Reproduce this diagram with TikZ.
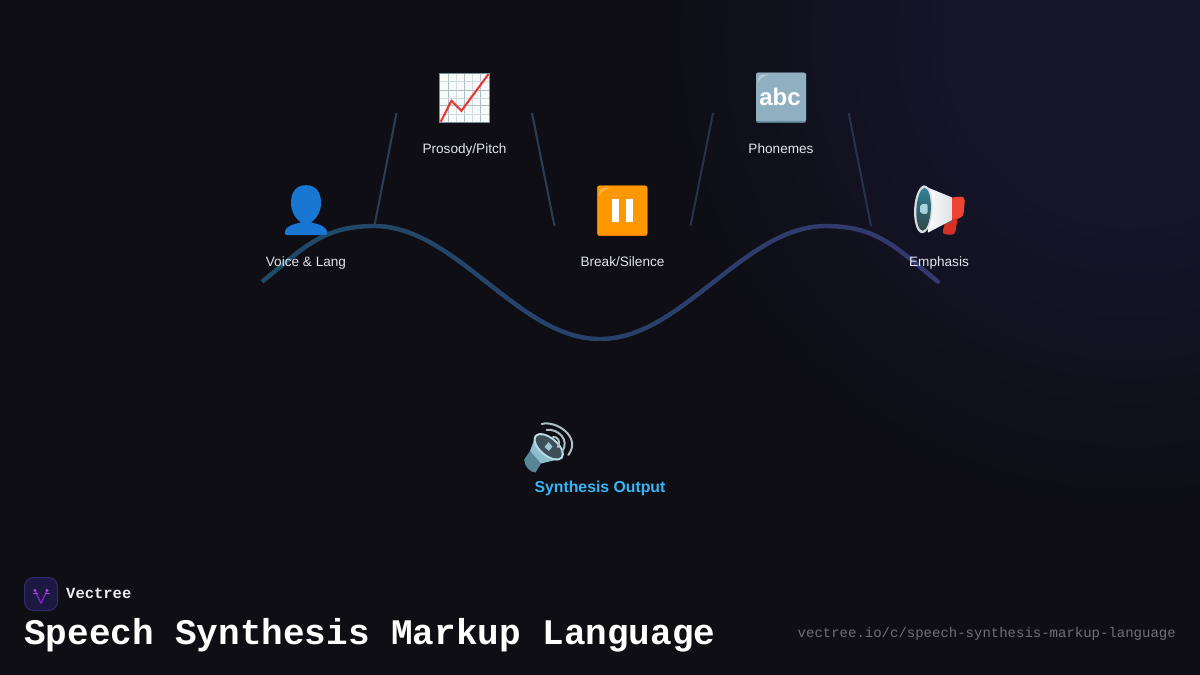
\documentclass[tikz,border=0pt]{standalone}
\usepackage{fontspec}
\setmainfont{Liberation Sans}
\setmonofont{Liberation Mono}
\definecolor{bgbase}{RGB}{14,14,20}
\definecolor{bgglow}{RGB}{21,21,44}
\definecolor{waveL}{RGB}{30,74,104}
\definecolor{waveR}{RGB}{52,56,110}
\definecolor{spokeA}{RGB}{44,62,86}
\definecolor{spokeB}{RGB}{36,52,76}
\definecolor{lbl}{RGB}{226,228,236}
\definecolor{accent}{RGB}{56,182,245}
\definecolor{urlgray}{RGB}{112,112,118}
\definecolor{personblue}{RGB}{25,118,210}
\definecolor{chartedge}{RGB}{120,144,156}
\definecolor{chartpaper}{RGB}{248,250,250}
\definecolor{gridA}{RGB}{176,190,197}
\definecolor{gridB}{RGB}{207,221,226}
\definecolor{chartred}{RGB}{229,57,53}
\definecolor{pausedark}{RGB}{239,124,0}
\definecolor{pauseorange}{RGB}{255,152,0}
\definecolor{pauseshine}{RGB}{255,183,77}
\definecolor{abcdark}{RGB}{84,122,136}
\definecolor{abcblue}{RGB}{144,175,193}
\definecolor{abcshine}{RGB}{178,203,216}
\definecolor{megred}{RGB}{240,68,50}
\definecolor{megredd}{RGB}{213,48,38}
\definecolor{meggray}{RGB}{110,90,90}
\definecolor{megbody}{RGB}{222,226,230}
\definecolor{megrim}{RGB}{214,222,226}
\definecolor{megteal}{RGB}{48,130,150}
\definecolor{megdark}{RGB}{52,70,72}
\definecolor{megcone}{RGB}{170,210,224}
\definecolor{spkneck}{RGB}{88,134,150}
\definecolor{spkbody}{RGB}{140,190,206}
\definecolor{spkrim}{RGB}{185,222,232}
\definecolor{spkin}{RGB}{64,78,88}
\definecolor{spkcone}{RGB}{150,200,215}
\definecolor{spkwave}{RGB}{176,190,197}
\definecolor{logoedge}{RGB}{52,44,112}
\definecolor{logofill}{RGB}{28,24,66}
\definecolor{logoline}{RGB}{126,34,206}
\definecolor{logodot}{RGB}{168,70,220}
\definecolor{brandtext}{RGB}{235,235,240}
\pgfdeclareradialshading{glowshade}{\pgfpoint{0bp}{0bp}}{color(0bp)=(bgglow); color(9bp)=(bgglow); color(25bp)=(bgbase); color(50bp)=(bgbase)}
\tikzset{
  iconlabel/.style={anchor=base,text=lbl,font=\fontsize{13.6}{16}\selectfont,inner sep=0pt},
  spoke/.style={line width=2pt,spokeA},
  spokeb/.style={line width=2pt,spokeB},
  wavepart/.style={line width=4.4pt,line cap=round,line join=round},
}
\begin{document}
\begin{tikzpicture}[x=1pt,y=-1pt]
\useasboundingbox (0,0) rectangle (1200,675);
\fill[bgbase] (0,0) rectangle (1200,675);
\begin{scope}
\clip (0,0) rectangle (1200,675);
\shade[shading=glowshade] (1130,40) circle (470);
\end{scope}

% spokes
\coordinate (s1a) at (396.5,113); \coordinate (s1b) at (374.5,225.5);
\coordinate (s2a) at (532,113);   \coordinate (s2b) at (554.5,226);
\coordinate (s3a) at (713,113);   \coordinate (s3b) at (690.5,226);
\coordinate (s4a) at (848.7,113); \coordinate (s4b) at (871,226);
\draw[spoke] (s1a) -- (s1b);
\draw[spoke] (s2a) -- (s2b);
\draw[spokeb] (s3a) -- (s3b);
\draw[spokeb] (s4a) -- (s4b);

% wave with a left-to-right colour gradient
\foreach \i in {0,...,169}{
  \pgfmathsetmacro{\xa}{262+4*\i}
  \pgfmathsetmacro{\xb}{min(\xa+4,938)}
  \pgfmathsetmacro{\ua}{min(\xa-261,939-\xa)}
  \pgfmathsetmacro{\ub}{min(\xb-261,939-\xb)}
  \pgfmathsetmacro{\ba}{\ua<112 ? 3.2*sin(\ua/112*180)*sin(\ua/112*180) : 0}
  \pgfmathsetmacro{\bb}{\ub<112 ? 3.2*sin(\ub/112*180)*sin(\ub/112*180) : 0}
  \pgfmathsetmacro{\ya}{282.5-56.5*sin((\xa-261)/226*180)-\ba}
  \pgfmathsetmacro{\yb}{282.5-56.5*sin((\xb-261)/226*180)-\bb}
  \pgfmathsetmacro{\pc}{100-\i/1.69}
  \ifnum\i=0\relax
    \draw[line width=4.4pt,line cap=butt,waveL!\pc!waveR] (\xa,\ya) -- (\xb,\yb);
  \else\ifnum\i=169\relax
    \draw[line width=4.4pt,line cap=butt,waveL!\pc!waveR] (\xa,\ya) -- (\xb,\yb);
  \else
    \draw[wavepart,waveL!\pc!waveR] (\xa,\ya) -- (\xb,\yb);
  \fi\fi
}

% person icon
\fill[personblue] (306,185.2)
  .. controls (296,185.2) and (291,192) .. (291,203)
  .. controls (291,212) and (296,219) .. (301,222.5)
  .. controls (294,224) and (284.8,226) .. (284.8,233)
  .. controls (284.8,234.5) and (285.5,235) .. (287,235)
  -- (325,235)
  .. controls (326.5,235) and (327.2,234.5) .. (327.2,233)
  .. controls (327.2,226) and (318,224) .. (311,222.5)
  .. controls (316,219) and (321,212) .. (321,203)
  .. controls (321,192) and (316,185.2) .. (306,185.2) -- cycle;
\node[iconlabel] (voice) at (306,266) {Voice \& Lang};

% chart icon
\fill[chartedge] (439.3,72.7) rectangle (490,122.9);
\fill[chartpaper] (440.3,73.7) rectangle (489,121.9);
\foreach \gx/\gc in {448.3/gridA,456.7/gridB,464.3/gridA,472.3/gridB,480.7/gridA}{
  \draw[\gc,line width=1pt] (\gx,73.7) -- (\gx,121.9);
}
\foreach \gy/\gc in {81.7/gridB,90/gridA,98.3/gridB,105.7/gridA,114/gridB}{
  \draw[\gc,line width=1pt] (440.3,\gy) -- (489,\gy);
}
\draw[chartred,line width=2.1pt,line join=miter] (440.8,121.7) -- (451.4,100.8) -- (461.4,110.8) -- (488.4,74.3);
\node[iconlabel] (prosody) at (464.5,153) {Prosody/Pitch};

% pause icon
\fill[pausedark,rounded corners=2pt] (597.3,185.7) rectangle (647.3,235.9);
\fill[pauseorange,rounded corners=2pt] (597.3,185.7) rectangle (647.3,234.7);
\fill[pauseshine] (599.2,196) .. controls (599.2,190.5) and (601,187.6) .. (606,187.6) -- (612,187.6) .. controls (606,188.5) and (601,191) .. (599.2,196) -- cycle;
\fill[white] (612.3,199) rectangle (619.3,222.3);
\fill[white] (625.7,199) rectangle (632.7,222.3);
\node[iconlabel] (breaksil) at (622.5,266) {Break/Silence};

% abc icon
\fill[abcdark,rounded corners=2pt] (756,72.7) rectangle (806,122.9);
\fill[abcblue,rounded corners=2pt] (756,72.7) rectangle (806,121.4);
\fill[abcshine] (757.8,83) .. controls (757.8,77.5) and (759.5,74.6) .. (764.5,74.6) -- (770,74.6) .. controls (764,75.5) and (759.5,78) .. (757.8,83) -- cycle;
\node[anchor=base,inner sep=0pt,text=white,font={\bfseries\fontsize{24}{26}\selectfont}] (abcglyph) at (780,105.8) {abc};
\node[iconlabel] (phonemes) at (781,153) {Phonemes};

% megaphone icon
\fill[megred] (950,197.7) -- (960,196.7) .. controls (963.5,196.5) and (965,198.5) .. (964.8,201) -- (963.6,213) .. controls (963.3,216.5) and (960,218.5) .. (957,219.3) -- (951,220.5) -- cycle;
\fill[megredd] (945.5,220) -- (957.5,218.3) -- (955.6,231) .. controls (955.2,234) and (953,235) .. (950,234.8) -- (945.5,234.3) .. controls (943,234) and (942.3,232.5) .. (943,230.5) -- cycle;
\fill[meggray] (946.5,220) -- (952,219.5) -- (951.5,223) -- (946,223.5) -- cycle;
\shade[left color=white,right color=megbody]
 (923,185.6) -- (952,197.4) -- (952,220) -- (928,232.6) -- cycle;
\begin{scope}[rotate around={-3:(923.3,209.3)}]
\fill[megrim] (923.3,209.3) ellipse (9.2 and 23.9);
\shade[top color=megteal,bottom color=megdark] (923.6,209.3) ellipse (7.2 and 21.4);
\end{scope}
\fill[megcone,rounded corners=2pt] (920,204.5) -- (927.5,203.6) -- (927.5,214) -- (920,213.5) -- cycle;
\node[iconlabel] (emphasis) at (939,266) {Emphasis};

% speaker icon
\fill[spkneck] (524.2,459.5) -- (530,451) -- (541,463.5) -- (535.5,472.5) .. controls (530,472.5) and (524,466) .. (524.2,459.5) -- cycle;
\fill[spkbody] (530,451) -- (535.6,436) -- (562,458.5) -- (541,463.5) -- cycle;
\begin{scope}[rotate around={-40:(548.7,446.8)}]
\fill[spkrim] (548.7,446.8) ellipse (18 and 9.6);
\fill[spkin] (548.7,446.8) ellipse (15.8 and 7.6);
\end{scope}
\fill[spkcone] (544.5,447) -- (548.5,442) -- (552.5,446.5) -- (549,451) -- cycle;
\draw[spkwave,line width=2pt,line cap=round] (541.7,424) .. controls (556,420) and (582,437) .. (568.3,455);
\draw[spkwave,line width=2pt,line cap=round] (546.7,430) .. controls (557,428) and (571,440) .. (561.7,451.7);
\draw[spkwave,line width=2pt,line cap=round] (553,437) .. controls (557.5,436.5) and (561,441) .. (558,447);
\node[anchor=base,inner sep=0pt,text=accent,font={\bfseries\fontsize{15.8}{18}\selectfont}] (output) at (600,492) {Synthesis Output};

% brand
\draw[logoedge,fill=logofill,line width=1pt,rounded corners=9pt] (24.5,577.5) rectangle (57.5,610.5);
\coordinate (lgb) at (41,603.5); \coordinate (lgl) at (35,590.5); \coordinate (lgr) at (47,590.5);
\draw[logoline,line width=1.3pt] (lgb) -- (lgl);
\draw[logoline,line width=1.3pt] (lgb) -- (lgr);
\fill[logodot] (lgl) circle (1.7);
\fill[logodot] (lgr) circle (1.7);
\draw[logodot,line width=.9pt] (32.5,593.5) -- (37.5,593.5);
\draw[logodot,line width=.9pt] (44.5,593.5) -- (49.5,593.5);
\node[anchor=base west,inner sep=0pt,text=brandtext,font={\ttfamily\bfseries\fontsize{15.5}{18}\selectfont}] (brand) at (66,598.5) {Vectree};
\node[anchor=base west,inner sep=0pt,text=white,font={\ttfamily\bfseries\fontsize{36}{40}\selectfont}] (title) at (24,644.3) {Speech Synthesis Markup Language};
\node[anchor=base east,inner sep=0pt,text=urlgray,font={\ttfamily\fontsize{14}{16}\selectfont}] (url) at (1176,637) {vectree.io/c/speech-synthesis-markup-language};
\end{tikzpicture}
\end{document}
